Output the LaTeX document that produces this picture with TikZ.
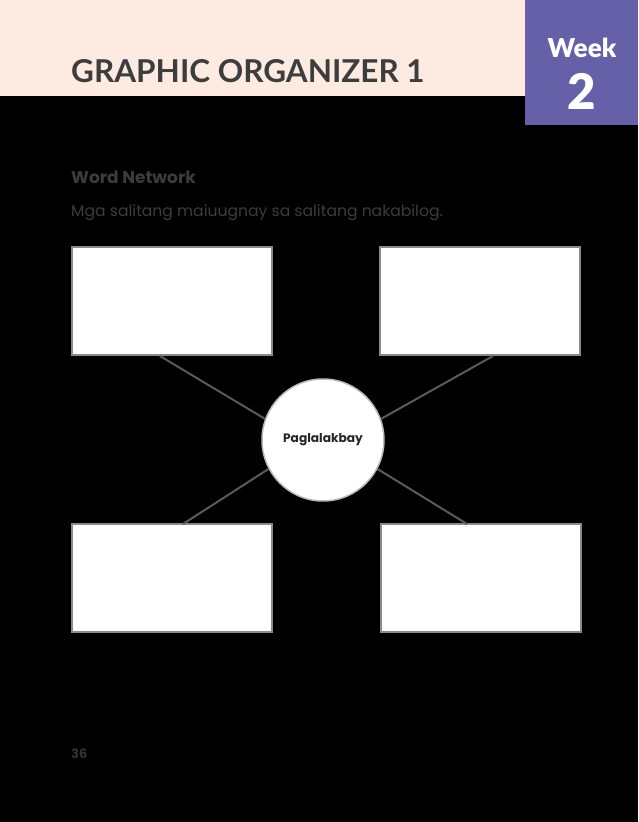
\documentclass[tikz,border=0pt]{standalone}
\usepackage{fontspec}
\setmainfont{Lato}
\newfontfamily\popp{Poppins}
\usetikzlibrary{calc}
\definecolor{peach}{HTML}{FDEAE1}
\definecolor{purp}{HTML}{6560A8}
\definecolor{titlegray}{HTML}{3D3D3D}
\definecolor{dimgray}{HTML}{3C3C3C}
\definecolor{boxedge}{HTML}{8A8A8A}
\definecolor{linkgray}{HTML}{5A5A5A}
\tikzset{
  wbox/.style={draw=boxedge, line width=2pt, fill=white, minimum width=200pt, minimum height=108pt, inner sep=0pt},
  link/.style={draw=linkgray, line width=2pt},
  hub/.style={circle, draw=boxedge!60, line width=1.5pt, fill=white, minimum size=122pt, inner sep=0pt, font=\popp\fontsize{12.2}{15}\selectfont, text=black!85},
}
\begin{document}
\begin{tikzpicture}[x=1pt,y=1pt]
\useasboundingbox (0,0) rectangle (638,822);
\fill[black] (0,0) rectangle (638,822);
\fill[peach] (0,822) rectangle (525,726);
\fill[purp] (525,822) rectangle (638,697);
\node[anchor=base west, inner sep=0pt, text=titlegray, font=\bfseries\fontsize{31.5}{34}\selectfont] (title) at (71,739) {GRAPHIC ORGANIZER 1};
\node[anchor=base, inner sep=0pt, text=white, font=\fontspec{Lato Black}\fontsize{26}{30}\selectfont] (week) at (582,764) {Week};
\node[anchor=base, inner sep=0pt, text=white, font=\fontspec{Lato Black}\fontsize{49}{50}\selectfont] (num) at (582,712) {2};
\node[anchor=base west, inner sep=0pt, text=dimgray, font=\popp\bfseries\fontsize{17}{20}\selectfont] (sub) at (71,638) {Word Network};
\node[anchor=base west, inner sep=0pt, text=dimgray, font=\popp\fontsize{15.6}{18}\selectfont] (desc) at (71,605) {Mga salitang maiuugnay sa salitang nakabilog.};
\node[anchor=base west, inner sep=0pt, text=black!80!white, font=\popp\bfseries\fontsize{13}{15}\selectfont] (page) at (71,63) {36};
\node[wbox] (tl) at (172,520.5) {};
\node[wbox] (tr) at (480,520.5) {};
\node[wbox] (bl) at (172,244) {};
\node[wbox] (br) at (480.5,244) {};
\coordinate (tla) at (160,466);
\coordinate (tra) at (493,466);
\coordinate (bla) at (183,298);
\coordinate (bra) at (467,298);
\node[hub] (hub) at (323,382) {\bfseries Paglalakbay};
\draw[link] (tla) -- (hub.160);
\draw[link] (tra) -- (hub.20);
\draw[link] (bla) -- (hub.-152);
\draw[link] (bra) -- (hub.-28);
\end{tikzpicture}
\end{document}
